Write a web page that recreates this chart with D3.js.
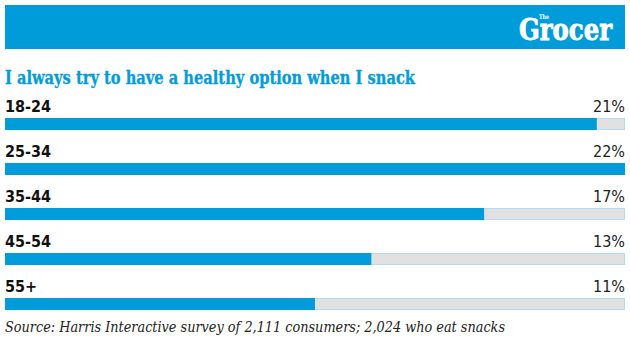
<!DOCTYPE html>
<html>
<head>
<meta charset="utf-8">
<script src="https://cdn.jsdelivr.net/npm/d3@7"></script>
<style>
  html, body { margin: 0; padding: 0; background: #ffffff; }
  svg { display: block; }
</style>
</head>
<body>
<svg id="chart" width="630" height="349"></svg>
<script>
const categories = ["18-24", "25-34", "35-44", "45-54", "55+"];
const values = [21, 22, 17, 13, 11];
const valueLabels = ["21%", "22%", "17%", "13%", "11%"];
const title = "I always try to have a healthy option when I snack";
const source = "Source: Harris Interactive survey of 2,111 consumers; 2,024 who eat snacks";
const domainMax = 22;

const blue = "#009cd9";
const svg = d3.select("#chart");

// header
svg.append("rect").attr("x", 5).attr("y", 5).attr("width", 620).attr("height", 44).attr("fill", blue);
svg.append("text").attr("x", 519).attr("y", 40)
  .attr("font-family", "'DejaVu Serif Condensed', 'DejaVu Serif', serif")
  .attr("font-weight", "bold").attr("font-size", 30).attr("fill", "#fff")
  .attr("stroke", "#fff").attr("stroke-width", 0.8)
  .attr("textLength", 93).attr("lengthAdjust", "spacingAndGlyphs")
  .text("Grocer");
svg.append("text").attr("x", 539).attr("y", 19)
  .attr("font-family", "'DejaVu Serif Condensed', 'DejaVu Serif', serif")
  .attr("font-weight", "bold").attr("font-size", 6.5).attr("fill", "#fff")
  .attr("textLength", 10).attr("lengthAdjust", "spacingAndGlyphs")
  .text("The");

// title
svg.append("text").attr("x", 5).attr("y", 84)
  .attr("font-family", "'DejaVu Serif Condensed', 'DejaVu Serif', serif")
  .attr("font-weight", "bold").attr("font-size", 19).attr("fill", blue)
  .attr("stroke", blue).attr("stroke-width", 0.3)
  .attr("textLength", 410).attr("lengthAdjust", "spacingAndGlyphs")
  .text(title);

const x = d3.scaleLinear().domain([0, domainMax]).range([5, 625]);
const y = d3.scaleBand().domain(categories).range([96, 321]).padding(0);

const rows = svg.append("g").selectAll("g").data(categories).join("g")
  .attr("transform", d => `translate(0,${y(d)})`);

rows.append("rect")
  .attr("x", x(0) + 0.5).attr("y", 22.5)
  .attr("width", x(domainMax) - x(0) - 1).attr("height", 11)
  .attr("fill", "#e1e1e1").attr("stroke", "#b3dcf0").attr("stroke-width", 1);

rows.append("rect")
  .attr("x", x(0)).attr("y", 22)
  .attr("width", (d, i) => x(values[i]) - x(0)).attr("height", 12)
  .attr("fill", blue);

rows.append("text").attr("x", 5).attr("y", 16)
  .attr("font-family", "'DejaVu Sans Condensed', sans-serif")
  .attr("font-weight", "bold").attr("font-size", 16).attr("fill", "#111")
  .text(d => d);

rows.append("text").attr("x", 625).attr("y", 16).attr("text-anchor", "end")
  .attr("font-family", "'DejaVu Sans Condensed', sans-serif")
  .attr("font-size", 16).attr("fill", "#222")
  .text((d, i) => valueLabels[i]);

// source
svg.append("text").attr("x", 5).attr("y", 332)
  .attr("font-family", "'DejaVu Serif Condensed', 'DejaVu Serif', serif")
  .attr("font-style", "italic").attr("font-size", 15).attr("fill", "#222")
  .attr("textLength", 500).attr("lengthAdjust", "spacingAndGlyphs")
  .text(source);
</script>
</body>
</html>
